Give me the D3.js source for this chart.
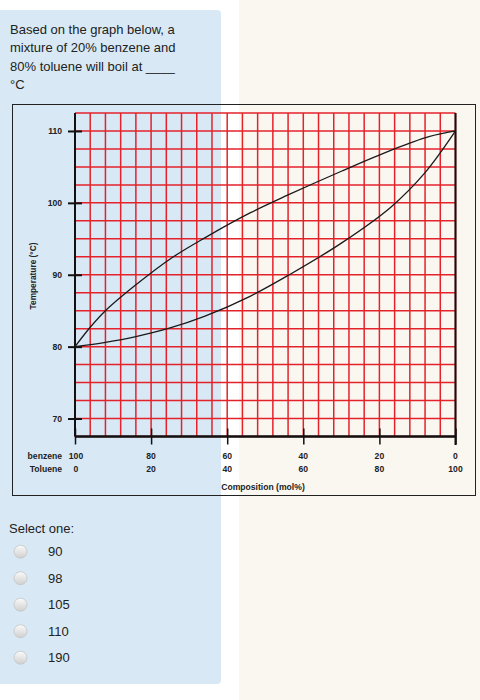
<!DOCTYPE html>
<html>
<head>
<meta charset="utf-8">
<script src="https://cdn.jsdelivr.net/npm/d3@7"></script>
<style>
  body { margin: 0; background: #fff; }
  svg { display: block; }
</style>
</head>
<body>
<div id="chart"></div>
<script>
// question + answers
const questionLines = ['Based on the graph below, a', 'mixture of 20% benzene and', '80% toluene will boil at ____', '°C'];
const choices = ['90', '98', '105', '110', '190'];

// axis ticks
const compTicks = [100, 80, 60, 40, 20, 0];
const tempTicks = [70, 80, 90, 100, 110];

// vapor (dew point) curve: mol% benzene -> °C
const vaporBenzene = [100, 96, 92, 84, 75, 66, 54, 44, 30, 17, 7, 0];
const vaporTemp = [80, 82.7, 85.0, 88.6, 92.2, 95.1, 98.6, 101.1, 104.4, 107.3, 109.2, 110];

// liquid (bubble point) curve
const liquidBenzene = [100, 92, 84, 75, 66, 54, 44, 30, 17, 8, 0];
const liquidTemp = [80, 80.6, 81.4, 82.6, 84.2, 87.0, 89.9, 94.4, 99.4, 104.2, 110];

const W = 480, H = 700;
const svg = d3.select('#chart').append('svg').attr('width', W).attr('height', H);

// page backgrounds
svg.append('rect').attr('x', 239).attr('y', 0).attr('width', W - 239).attr('height', H).attr('fill', '#faf7f1');
svg.append('path')
  .attr('d', 'M0,10 H217 Q221,10 221,14 V680 Q221,684 217,684 H0 Z')
  .attr('fill', '#d8e9f5');

// question text
svg.append('g').selectAll('text').data(questionLines).enter().append('text')
  .attr('x', 10)
  .attr('y', (d, i) => 33.5 + i * 18.6)
  .attr('font-family', 'Liberation Sans, Arial, sans-serif')
  .attr('font-size', 13)
  .attr('fill', '#222')
  .text(d => d);

// graph box
svg.append('rect').attr('x', 12.5).attr('y', 104.5).attr('width', 463).attr('height', 391)
  .attr('fill', 'none').attr('stroke', '#222').attr('stroke-width', 1);

const x = d3.scaleLinear().domain([100, 0]).range([75, 455.5]);
const y = d3.scaleLinear().domain([67.5, 112.5]).range([436.5, 113]);

// red graph-paper grid
const grid = svg.append('g').attr('stroke', '#e4222a').attr('stroke-width', 1.5);
grid.selectAll('.v').data(d3.range(0, 101, 4)).enter().append('line')
  .attr('x1', d => x(d)).attr('x2', d => x(d))
  .attr('y1', y(112.5)).attr('y2', y(67.5));
grid.selectAll('.h').data(d3.range(67.5, 112.6, 2.5)).enter().append('line')
  .attr('x1', x(100)).attr('x2', x(0))
  .attr('y1', d => y(d)).attr('y2', d => y(d));

const labelFont = 'Liberation Sans, Arial, sans-serif';
const fs = 8.6;

// left axis
const yAxis = svg.append('g')
  .attr('transform', `translate(${x(100)},0)`)
  .call(d3.axisLeft(y).tickValues(tempTicks).tickSize(7).tickFormat(''));
yAxis.select('.domain').attr('d', `M0,${y(112.5)}V${y(67.5)}`).attr('stroke', '#111').attr('stroke-width', 2);
yAxis.selectAll('.tick line').attr('x1', 7).attr('x2', -7).attr('stroke', '#111').attr('stroke-width', 2);

svg.append('g').selectAll('text').data(tempTicks).enter().append('text')
  .attr('x', 62).attr('y', d => y(d) + 3.2)
  .attr('text-anchor', 'end')
  .attr('font-family', labelFont).attr('font-size', fs).attr('font-weight', 'bold')
  .attr('fill', '#222')
  .text(d => d);

// right edge
svg.append('line').attr('x1', x(0)).attr('x2', x(0)).attr('y1', y(112.5)).attr('y2', 445)
  .attr('stroke', '#111').attr('stroke-width', 2);

// bottom axis
const xAxis = svg.append('g')
  .attr('transform', `translate(0,${y(67.5)})`)
  .call(d3.axisBottom(x).tickValues(compTicks).tickSize(8).tickFormat(''));
xAxis.select('.domain').attr('d', `M${x(100)},0H${x(0)}`).attr('stroke', '#111').attr('stroke-width', 2.5);
xAxis.selectAll('.tick line').attr('y1', -8).attr('y2', 8).attr('stroke', '#111').attr('stroke-width', 1.5);

const rows = [
  { name: 'benzene', y: 458.5, val: d => d },
  { name: 'Toluene', y: 471.5, val: d => 100 - d }
];
rows.forEach(r => {
  svg.append('text').attr('x', 62).attr('y', r.y).attr('text-anchor', 'end')
    .attr('font-family', labelFont).attr('font-size', fs).attr('font-weight', 'bold').attr('fill', '#222')
    .text(r.name);
  svg.append('g').selectAll('text').data(compTicks).enter().append('text')
    .attr('x', d => x(d) + (d === 100 ? 1 : 0)).attr('y', r.y)
    .attr('text-anchor', 'middle')
    .attr('font-family', labelFont).attr('font-size', fs).attr('font-weight', 'bold').attr('fill', '#222')
    .text(d => r.val(d));
});

svg.append('text').attr('x', 263).attr('y', 490).attr('text-anchor', 'middle')
  .attr('font-family', labelFont).attr('font-size', fs).attr('font-weight', 'bold').attr('fill', '#222')
  .text('Composition (mol%)');

svg.append('text')
  .attr('transform', 'translate(36,276) rotate(-90)')
  .attr('text-anchor', 'middle')
  .attr('font-family', labelFont).attr('font-size', 8.3).attr('font-weight', 'bold').attr('fill', '#222')
  .text('Temperature (°C)');

// curves
const line = d3.line().x(d => x(d[0])).y(d => y(d[1])).curve(d3.curveCatmullRom.alpha(0.5));
svg.append('path').datum(d3.zip(vaporBenzene, vaporTemp))
  .attr('d', line).attr('fill', 'none').attr('stroke', '#1a1a1a').attr('stroke-width', 1.3);
svg.append('path').datum(d3.zip(liquidBenzene, liquidTemp))
  .attr('d', line).attr('fill', 'none').attr('stroke', '#1a1a1a').attr('stroke-width', 1.3);

// answer choices
svg.append('text').attr('x', 9).attr('y', 532.5)
  .attr('font-family', 'Liberation Sans, Arial, sans-serif').attr('font-size', 13).attr('fill', '#222')
  .text('Select one:');

const grad = svg.append('defs').append('linearGradient').attr('id', 'radio')
  .attr('x1', 0).attr('y1', 0).attr('x2', 0).attr('y2', 1);
grad.append('stop').attr('offset', '0%').attr('stop-color', '#fbfbfb');
grad.append('stop').attr('offset', '100%').attr('stop-color', '#cfcfcf');

const opt = svg.append('g').selectAll('g').data(choices).enter().append('g')
  .attr('transform', (d, i) => `translate(0,${551.7 + i * 26.5})`);
opt.append('circle').attr('cx', 20.5).attr('cy', 0).attr('r', 6.5)
  .attr('fill', 'url(#radio)').attr('stroke', '#c4c4c4').attr('stroke-width', 0.8);
opt.append('text').attr('x', 48).attr('y', 4.5)
  .attr('font-family', 'Liberation Sans, Arial, sans-serif').attr('font-size', 13).attr('fill', '#222')
  .text(d => d);
</script>
</body>
</html>
